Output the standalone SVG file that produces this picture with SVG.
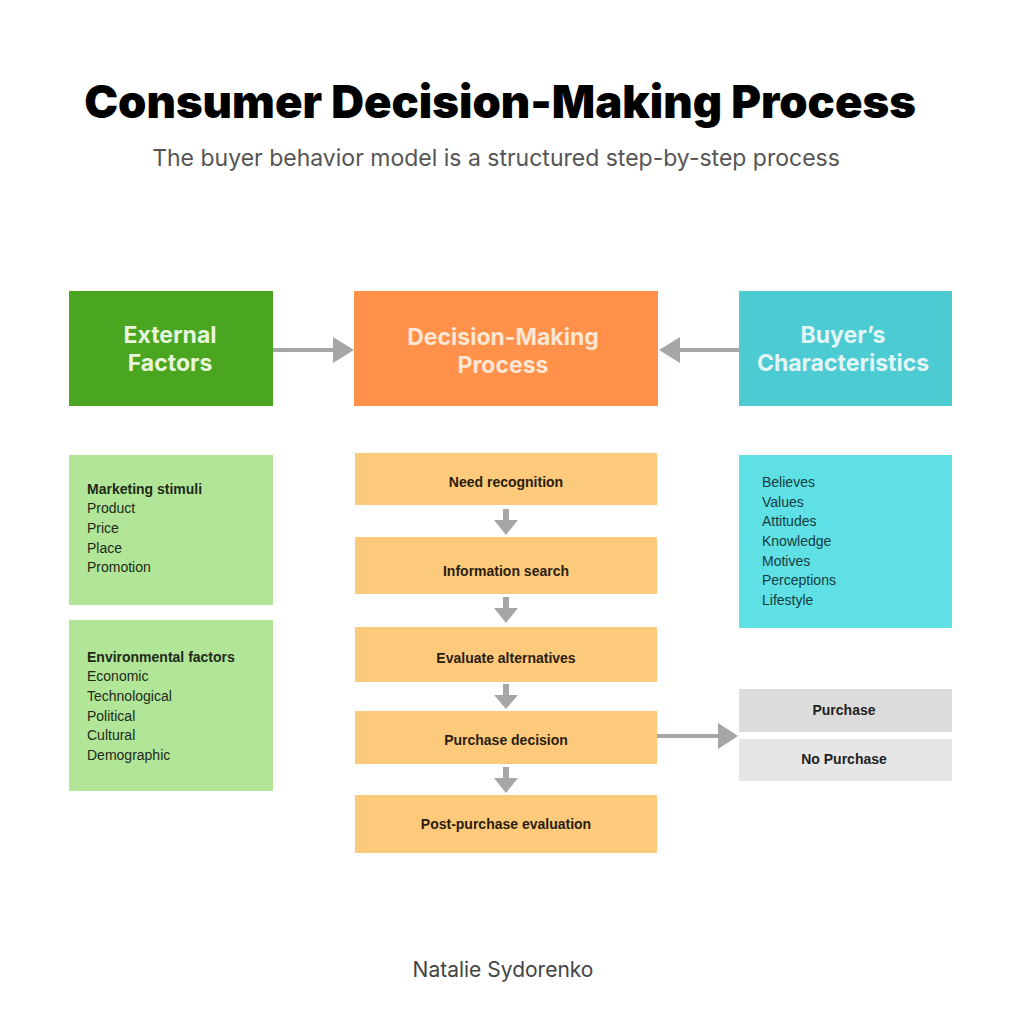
<svg xmlns="http://www.w3.org/2000/svg" width="1024" height="1024" viewBox="0 0 1024 1024">
<defs>
<style>
.title{font-family:Inter,"Liberation Sans",sans-serif;font-weight:900;font-size:45.4px;fill:#000;text-anchor:middle}
.sub{font-family:Inter,"Liberation Sans",sans-serif;font-size:23px;fill:#555;text-anchor:middle}
.foot{font-family:Inter,"Liberation Sans",sans-serif;font-size:21px;fill:#444;text-anchor:middle}
.head{font-family:Inter,"Liberation Sans",sans-serif;font-weight:700;font-size:23px;text-anchor:middle}
.step{font-family:"Liberation Sans",Arial,sans-serif;font-weight:700;font-size:14px;fill:#2b1d10;text-anchor:middle}
.opt{font-family:"Liberation Sans",Arial,sans-serif;font-weight:700;font-size:14px;fill:#222;text-anchor:middle}
.item{font-family:"Liberation Sans",Arial,sans-serif;font-size:14px}
.conn{stroke:#a6a6a6;stroke-width:4;fill:none}
.ahead{fill:#a6a6a6}
</style>
</defs>
<rect width="1024" height="1024" fill="#fff"/>
<text class="title" x="500" y="118">Consumer Decision-Making Process</text>
<text class="sub" x="496" y="166">The buyer behavior model is a structured step-by-step process</text>

<g id="external-factors">
<rect x="69" y="291" width="204" height="115" fill="#4aa521"/>
<text class="head" fill="#e6f5dc" x="170" y="343">External</text>
<text class="head" fill="#e6f5dc" x="170" y="371">Factors</text>
</g>
<g id="decision-making-process">
<rect x="354" y="291" width="304" height="115" fill="#ff914a"/>
<text class="head" fill="#fde6d4" x="503" y="345">Decision-Making</text>
<text class="head" fill="#fde6d4" x="503" y="373">Process</text>
</g>
<g id="buyers-characteristics">
<rect x="739" y="291" width="213" height="115" fill="#4dcbd2"/>
<text class="head" fill="#e2f6f7" x="843" y="343">Buyer’s</text>
<text class="head" fill="#e2f6f7" x="843" y="371">Characteristics</text>
</g>

<g id="marketing-stimuli">
<rect x="69" y="455" width="204" height="150" fill="#b1e598"/>
<text class="item" fill="#1e2a18" x="87" y="494" font-weight="700">Marketing stimuli</text>
<text class="item" fill="#1e2a18" x="87" y="513">Product</text>
<text class="item" fill="#1e2a18" x="87" y="533">Price</text>
<text class="item" fill="#1e2a18" x="87" y="553">Place</text>
<text class="item" fill="#1e2a18" x="87" y="572">Promotion</text>
</g>
<g id="environmental-factors">
<rect x="69" y="620" width="204" height="171" fill="#b1e598"/>
<text class="item" fill="#1e2a18" x="87" y="662" font-weight="700">Environmental factors</text>
<text class="item" fill="#1e2a18" x="87" y="681">Economic</text>
<text class="item" fill="#1e2a18" x="87" y="701">Technological</text>
<text class="item" fill="#1e2a18" x="87" y="721">Political</text>
<text class="item" fill="#1e2a18" x="87" y="740">Cultural</text>
<text class="item" fill="#1e2a18" x="87" y="760">Demographic</text>
</g>
<g id="buyer-traits">
<rect x="739" y="455" width="213" height="173" fill="#5ee0e4"/>
<text class="item" fill="#173c40" x="762" y="487">Believes</text>
<text class="item" fill="#173c40" x="762" y="507">Values</text>
<text class="item" fill="#173c40" x="762" y="526">Attitudes</text>
<text class="item" fill="#173c40" x="762" y="546">Knowledge</text>
<text class="item" fill="#173c40" x="762" y="566">Motives</text>
<text class="item" fill="#173c40" x="762" y="585">Perceptions</text>
<text class="item" fill="#173c40" x="762" y="605">Lifestyle</text>
</g>

<g id="need-recognition">
<rect x="355" y="453" width="302" height="52" fill="#fdca7b"/>
<text class="step" x="506" y="487">Need recognition</text>
</g>
<g id="information-search">
<rect x="355" y="537" width="302" height="57" fill="#fdca7b"/>
<text class="step" x="506" y="576">Information search</text>
</g>
<g id="evaluate-alternatives">
<rect x="355" y="627" width="302" height="55" fill="#fdca7b"/>
<text class="step" x="506" y="663">Evaluate alternatives</text>
</g>
<g id="purchase-decision">
<rect x="355" y="711" width="302" height="53" fill="#fdca7b"/>
<text class="step" x="506" y="745">Purchase decision</text>
</g>
<g id="post-purchase-evaluation">
<rect x="355" y="795" width="302" height="58" fill="#fdca7b"/>
<text class="step" x="506" y="829">Post-purchase evaluation</text>
</g>

<g id="purchase">
<rect x="739" y="689" width="213" height="43" fill="#dcdcdc"/>
<text class="opt" x="844" y="715">Purchase</text>
</g>
<g id="no-purchase">
<rect x="739" y="739" width="213" height="42" fill="#e6e6e6"/>
<text class="opt" x="844" y="764">No Purchase</text>
</g>

<g id="connectors">
<line class="conn" x1="273" y1="350" x2="335" y2="350"/>
<polygon class="ahead" points="333,337 354,350 333,363"/>
<line class="conn" x1="739" y1="350" x2="678" y2="350"/>
<polygon class="ahead" points="680,337 659,350 680,363"/>
<line class="conn" x1="657" y1="736" x2="720" y2="736"/>
<polygon class="ahead" points="718,723 738,736 718,749"/>
<g>
<rect class="ahead" x="503" y="509" width="6" height="12"/>
<polygon class="ahead" points="494,520 518,520 506,535"/>
<rect class="ahead" x="503" y="597" width="6" height="12"/>
<polygon class="ahead" points="494,608 518,608 506,623"/>
<rect class="ahead" x="503" y="684" width="6" height="12"/>
<polygon class="ahead" points="494,695 518,695 506,709"/>
<rect class="ahead" x="503" y="767" width="6" height="12"/>
<polygon class="ahead" points="494,778 518,778 506,793"/>
</g>
</g>

<text class="foot" x="503" y="977">Natalie Sydorenko</text>
</svg>
